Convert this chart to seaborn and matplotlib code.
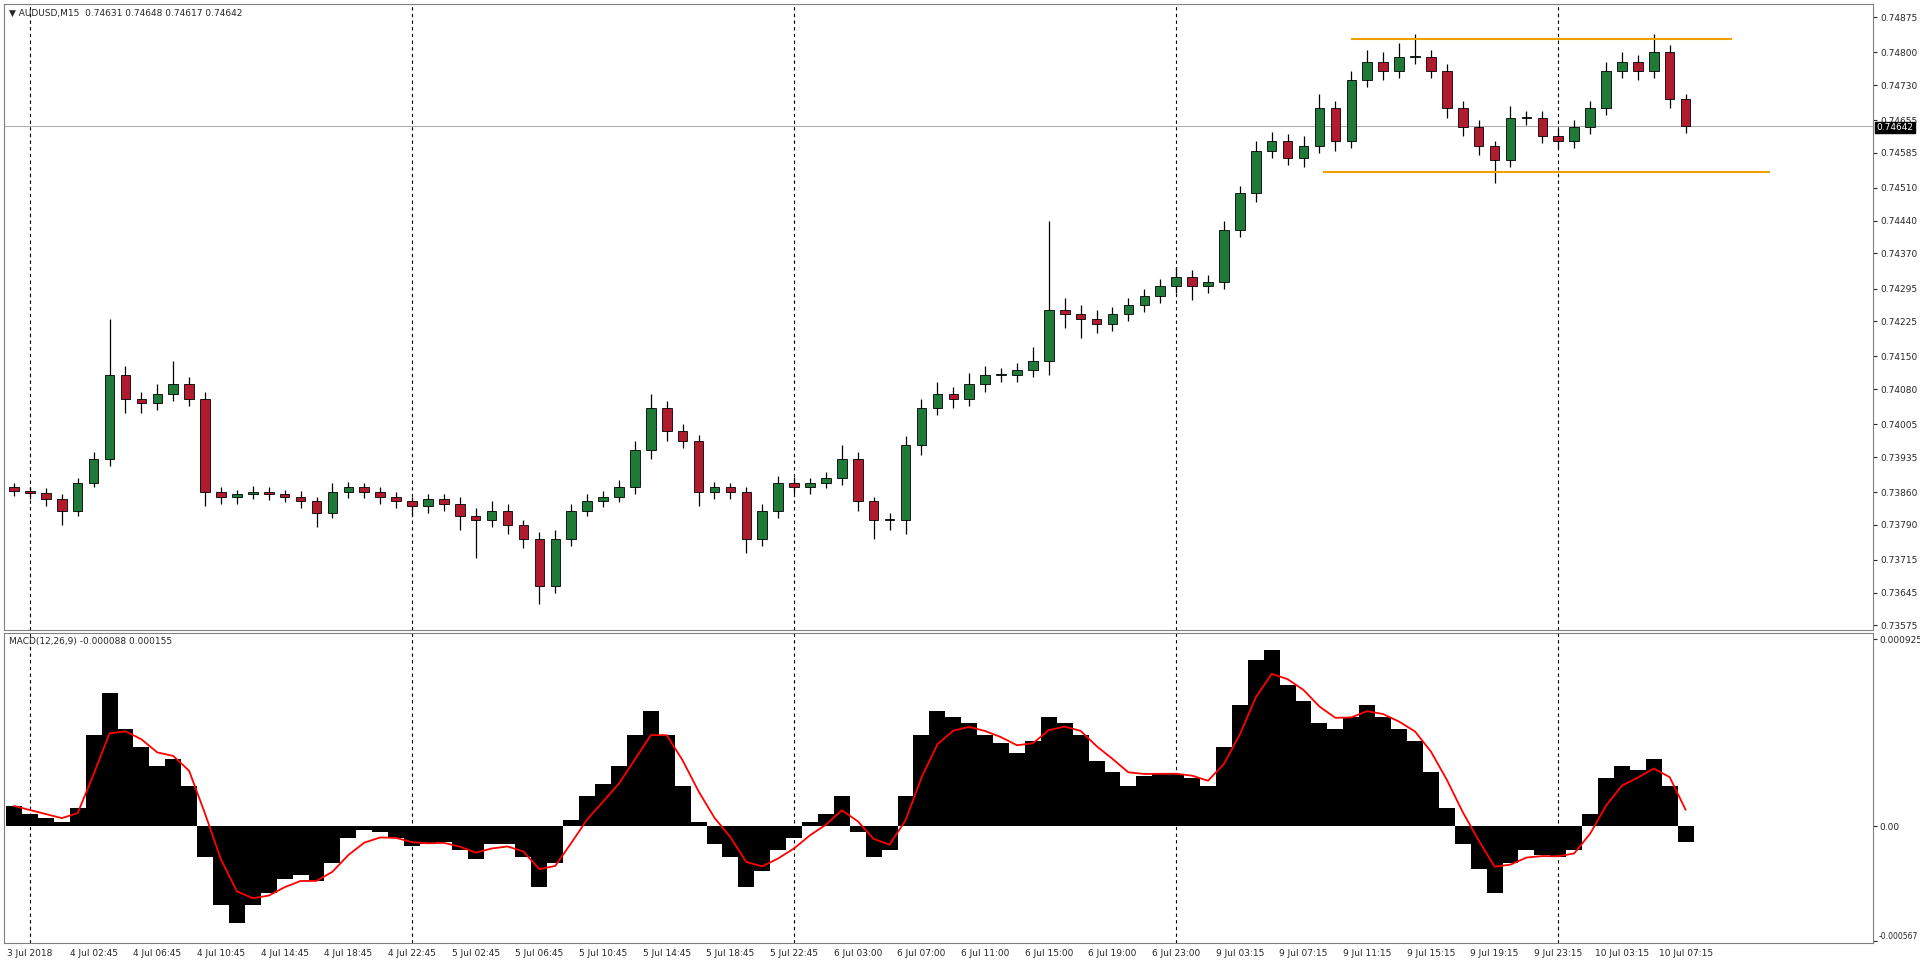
import numpy as np
import pandas as pd
import matplotlib
matplotlib.use("Agg")
import matplotlib.pyplot as plt
import seaborn as sns

closes = [.73862,.73858,.73845,.73820,.73880,.73930,.74110,.74060,.74050,.74070,
          .74090,.74060,.73860,.73850,.73855,.73860,.73855,.73850,.73840,.73815,
          .73860,.73870,.73860,.73850,.73840,.73830,.73845,.73835,.73810,.73800,
          .73820,.73790,.73760,.73660,.73760,.73820,.73840,.73850,.73870,.73950,
          .74040,.73990,.73970,.73860,.73870,.73860,.73760,.73820,.73880,.73870,
          .73880,.73890,.73930,.73840,.73800,.73800,.73960,.74040,.74070,.74060,
          .74090,.74110,.74110,.74120,.74140,.74250,.74240,.74230,.74220,.74240,
          .74260,.74280,.74300,.74320,.74300,.74310,.74420,.74500,.74590,.74610,
          .74575,.74600,.74680,.74610,.74740,.74780,.74760,.74790,.74790,.74760,
          .74680,.74640,.74600,.74570,.74660,.74660,.74620,.74610,.74640,.74680,
          .74760,.74780,.74760,.74800,.74700,.74642]
first_open = .73870
# wick lengths in 1e-5 units
upper_wick = [10,8,10,12,10,15,120,20,15,20,50,15,15,10,10,12,10,10,12,10,
              20,12,10,10,10,10,12,10,15,15,20,15,10,15,20,15,15,12,15,20,
              30,15,15,12,12,10,10,15,15,12,10,12,30,15,10,15,20,20,25,15,
              25,20,15,15,30,190,25,20,20,15,15,15,15,20,15,15,20,15,20,20,
              15,20,30,15,20,25,20,30,50,15,15,15,15,10,25,15,15,15,15,15,
              20,20,15,40,15,10]
lower_wick = [10,12,15,30,10,10,15,30,20,15,15,15,30,15,15,10,12,12,15,30,
              10,12,12,15,15,20,15,15,30,80,15,20,20,40,15,15,12,12,12,15,
              20,20,15,30,15,15,30,15,15,15,15,12,15,20,40,20,30,20,15,20,
              15,15,15,15,15,30,30,40,20,15,15,15,15,15,30,15,15,15,20,15,
              15,20,15,20,15,15,20,15,15,15,20,20,20,50,15,15,15,15,15,15,
              15,15,20,15,20,15]
macd = [.0001,.00006,.00004,.00002,.00009,.00045,.00066,.00048,.00039,.0003,
        .00033,.0002,-.00015,-.00039,-.00048,-.00039,-.00033,-.00026,-.00024,-.00027,
        -.00018,-.00006,-.00002,-.00003,-.00006,-.0001,-.00009,-.00008,-.00012,-.00016,
        -.00009,-.00009,-.00015,-.0003,-.00018,.00003,.00015,.00021,.0003,.00045,
        .00057,.00045,.0002,.00002,-.00009,-.00015,-.0003,-.00022,-.00012,-.00006,
        .00002,.00006,.00015,-.00003,-.00015,-.00012,.00015,.00045,.00057,.00054,
        .00051,.00045,.00041,.00036,.00042,.00054,.00051,.00045,.00032,.00027,
        .0002,.00025,.00026,.00026,.00024,.0002,.00039,.0006,.00082,.00087,
        .0007,.00062,.00051,.00048,.00054,.0006,.00054,.00048,.00042,.00027,
        .00009,-.00009,-.00021,-.00033,-.00018,-.00012,-.00014,-.00015,-.00012,.00006,
        .00024,.0003,.00028,.00033,.0002,-.00008]
tick_labels = ["3 Jul 2018","4 Jul 02:45","4 Jul 06:45","4 Jul 10:45","4 Jul 14:45","4 Jul 18:45",
               "4 Jul 22:45","5 Jul 02:45","5 Jul 06:45","5 Jul 10:45","5 Jul 14:45","5 Jul 18:45",
               "5 Jul 22:45","6 Jul 03:00","6 Jul 07:00","6 Jul 11:00","6 Jul 15:00","6 Jul 19:00",
               "6 Jul 23:00","9 Jul 03:15","9 Jul 07:15","9 Jul 11:15","9 Jul 15:15","9 Jul 19:15",
               "9 Jul 23:15","10 Jul 03:15","10 Jul 07:15"]
price_ticks = [0.74875,0.74800,0.74730,0.74655,0.74585,0.74510,0.74440,0.74370,0.74295,
               0.74225,0.74150,0.74080,0.74005,0.73935,0.73860,0.73790,0.73715,0.73645,0.73575]
resist_line = (84.0, 107.9, 0.74829)
support_line = (82.2, 110.3, 0.74545)
last_price = 0.74642

n = len(closes)
x = np.arange(n)
opens = [first_open] + closes[:-1]
df = pd.DataFrame({"x": x, "open": opens, "close": closes})
df["high"] = df[["open", "close"]].max(axis=1) + np.array(upper_wick) * 1e-5
df["low"] = df[["open", "close"]].min(axis=1) - np.array(lower_wick) * 1e-5
df["macd"] = macd
df["signal"] = df["macd"].ewm(span=3, adjust=False).mean()

sns.set_style("white")
plt.rcParams['font.family'] = ['DejaVu Sans']
fig = plt.figure(figsize=(19.2, 9.67), dpi=100)
W, H = 1568, 790
ax = fig.add_axes([3/W, 1-515/H, 1527/W, 512/H])
ax2 = fig.add_axes([3/W, 1-770/H, 1527/W, 253/H])

up = df["close"] >= df["open"]
ax.vlines(df["x"], df["low"], df["high"], color="black", lw=0.9, zorder=2)
body_b = df[["open", "close"]].min(axis=1)
body_h = (df["close"] - df["open"]).abs().clip(lower=1.5e-5)
ax.bar(df["x"][up], body_h[up], bottom=body_b[up], width=0.6, color="#1f7a3a", edgecolor="black", lw=0.6, zorder=3)
ax.bar(df["x"][~up], body_h[~up], bottom=body_b[~up], width=0.6, color="#b01c2e", edgecolor="black", lw=0.6, zorder=3)

ax.axhline(last_price, color="#b0b0b0", lw=0.8, zorder=1)
ax.hlines(resist_line[2], resist_line[0], resist_line[1], color="#f0a000", lw=1.5, zorder=4)
ax.hlines(support_line[2], support_line[0], support_line[1], color="#f0a000", lw=1.5, zorder=4)

xlim = (-0.65, 116.8)
tick_pos = [1 + 4*k for k in range(len(tick_labels))]
for a in (ax, ax2):
    a.set_xlim(*xlim)
    for k in range(0, len(tick_labels), 6):
        a.axvline(tick_pos[k], color="black", ls=(0, (3, 3)), lw=0.8, zorder=0)
    a.yaxis.tick_right()
    a.tick_params(axis="y", labelsize=6.5, length=3, pad=2)
    for s in a.spines.values():
        s.set_color("#808080")

ax.set_ylim(0.735645, 0.749038)
ax.set_yticks(price_ticks)
ax.set_yticklabels([f"{v:.5f}" for v in price_ticks])
ax.set_xticks([])
ax.text(117.0, last_price - 0.00003, f"{last_price:.5f}", fontsize=6.5, color="white",
        va="center", ha="left", bbox=dict(boxstyle="square,pad=0.15", fc="black", ec="black"),
        clip_on=False, zorder=6)
ax.text(0.003, 0.992, "▼ AUDUSD,M15  0.74631 0.74648 0.74617 0.74642", transform=ax.transAxes,
        fontsize=6.5, va="top", ha="left")

ax2.bar(df["x"], df["macd"], width=1.0, color="black", lw=0)
sns.lineplot(x="x", y="signal", data=df, ax=ax2, color="red", lw=1.3)
ax2.set_ylim(-0.000575, 0.000956)
ax2.set_yticks([0.000925, 0.0, -0.000567])
ax2.set_yticklabels(["0.000925", "0.00", "-0.000567"])
ax2.tick_params(axis="y", pad=1)
lab = ax2.get_yticklabels()[-1]
lab.set_va("bottom")
lab.set_fontsize(5.6)
ax2.set_xlabel(""); ax2.set_ylabel("")
ax2.set_xticks(tick_pos)
ax2.set_xticklabels(tick_labels, fontsize=6.5)
ax2.tick_params(axis="x", length=3, pad=2)
ax2.text(0.003, 0.985, "MACD(12,26,9) -0.000088 0.000155", transform=ax2.transAxes,
         fontsize=6.5, va="top", ha="left")

fig.savefig("out.png", dpi=100, facecolor="white")
